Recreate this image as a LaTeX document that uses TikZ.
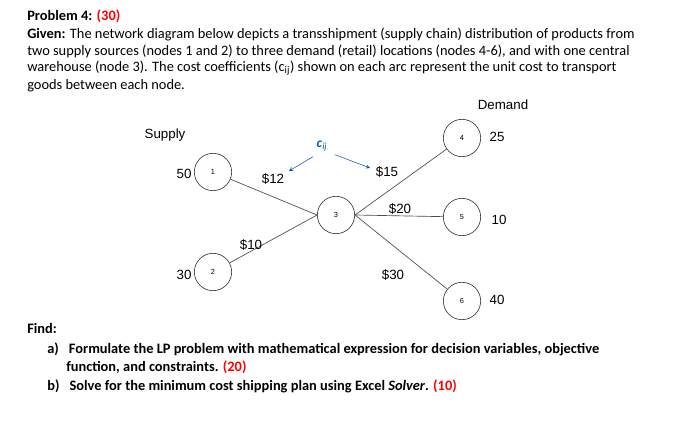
\documentclass[tikz,border=0pt]{standalone}
\usepackage{fontspec}
\setmainfont{Carlito}
\newfontfamily\arial{Liberation Sans}
\begin{document}
\begin{tikzpicture}[x=0.75pt,y=-0.75pt,
  nd/.style={circle,draw=black!75,line width=0.5pt,minimum size=28pt,inner sep=0pt,font=\arial\fontsize{5.5}{6}\selectfont},
  lbl/.style={font=\arial\fontsize{10}{12}\selectfont,inner sep=0pt},
  txt/.style={anchor=west,inner sep=0pt,font=\fontsize{10.8}{13}\selectfont},
  arc/.style={draw=black!70,line width=0.5pt},
  blu/.style={draw=blue!50!cyan!70!black,line width=0.4pt,-stealth}]
\useasboundingbox (0,0) rectangle (677,427);
\node[txt] (t1) at (27,16) {\textbf{Problem 4: \textcolor{red}{(30)}}};
\node[txt] (t2) at (27,34) {\textbf{Given:} The network diagram below depicts a transshipment (supply chain) distribution of products from};
\node[txt] (t3) at (27,51) {two supply sources (nodes 1 and 2) to three demand (retail) locations (nodes 4-6), and with one central};
\node[txt] (t4) at (27,68) {warehouse (node 3). The cost coefficients (c\textsubscript{ij}) shown on each arc represent the unit cost to transport};
\node[txt] (t5) at (27,86) {goods between each node.};
\node[txt] (f0) at (27,328) {\textbf{Find:}};
\node[txt] (fa) at (47,349) {\textbf{a)\hspace{0.7em}Formulate the LP problem with mathematical expression for decision variables, objective}};
\node[txt] (fa2) at (66,367) {\textbf{function, and constraints. \textcolor{red}{(20)}}};
\node[txt] (fb) at (47,386) {\textbf{b)\hspace{0.7em}Solve for the minimum cost shipping plan using Excel \textit{Solver}. \textcolor{red}{(10)}}};
\node[nd] (n1) at (213,172) {1};
\node[nd] (n2) at (213,272) {2};
\node[nd] (n3) at (336,215) {3};
\node[nd] (n4) at (462,138) {4};
\node[nd] (n5) at (462,217) {5};
\node[nd] (n6) at (462,301) {6};
\draw[arc] (n1) -- (n3.west);
\draw[arc] (n2) -- (n3.west);
\draw[arc] (n3.east) -- (n4);
\draw[arc] (n3.east) -- (n5);
\draw[arc] (n3.east) -- (n6);
\node[lbl] (sup) at (165,135) {Supply};
\node[lbl] (dem) at (503,105) {Demand};
\node[lbl] (s1) at (184,174) {50};
\node[lbl] (s2) at (184,275) {30};
\node[lbl] (d4) at (497,137) {25};
\node[lbl] (d5) at (499,220) {10};
\node[lbl] (d6) at (497,300) {40};
\node[lbl] (c12) at (273,179) {\$12};
\node[lbl] (c10) at (251,245) {\$10};
\node[lbl] (c15) at (387,172) {\$15};
\node[lbl] (c20) at (400,209) {\$20};
\node[lbl] (c30) at (393,275) {\$30};
\node[inner sep=1pt,text=blue!50!cyan!70!black,font=\fontsize{10}{12}\selectfont] (cij) at (322,146) {\textbf{\textit{c}}$_{\mathit{ij}}$};
\coordinate (ae1) at (289,171);
\coordinate (ae2) at (370,168);
\draw[blu] (cij.south west) ++(-2,4) -- (ae1);
\draw[blu] (cij.south east) ++(6,2) -- (ae2);
\end{tikzpicture}
\end{document}
